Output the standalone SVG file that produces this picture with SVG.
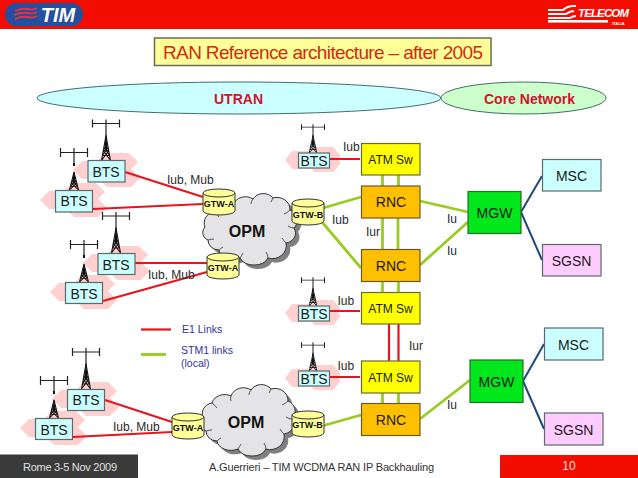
<svg xmlns="http://www.w3.org/2000/svg" xmlns:xlink="http://www.w3.org/1999/xlink" width="638" height="478" viewBox="0 0 638 478">
<style>
text{font-family:"Liberation Sans",Arial,sans-serif;fill:#1a1a1a}
.n{font-size:14px;text-anchor:middle}
.a{font-size:12px;text-anchor:middle}
.l{font-size:12px;fill:#2a2a2a}
.g{font-size:9px;font-weight:bold;text-anchor:middle;fill:#111}
.o{font-size:16px;font-weight:bold;text-anchor:middle;fill:#111}
.hd{font-size:14px;font-weight:bold;text-anchor:middle;fill:#d0142c}
.leg{font-size:10.5px;fill:#333399}
.box{stroke:#5a6a6a;stroke-width:1.2}
.bts{fill:#ccffff}
.atm{fill:#ffff00;stroke:#6b6b30;stroke-width:1.2}
.rnc{fill:#ffc000;stroke:#6b5a20;stroke-width:1.2}
.mgw{fill:#00e81c;stroke:#2a6a2a;stroke-width:1.2}
.msc{fill:#ccffff}
.sgsn{fill:#ffccff}
.red{stroke:#e8141c;stroke-width:2.2;fill:none}
.grn{stroke:#99cc22;stroke-width:2.8;fill:none}
.blu{stroke:#1f497d;stroke-width:2;fill:none}
.hex{fill:#ffd0d0}
.w{fill:none;stroke:#fff;stroke-width:2}
</style>
<defs>
<polygon id="hx" class="hex" points="0,9 9,0 33,0 42,9 33,18 9,18"/>
<g id="hexes"><use href="#hx" x="8" y="-7"/><use href="#hx" x="-15" y="1"/><use href="#hx" x="10" y="9"/></g>
<g id="hexs"><use href="#hx" transform="translate(-13,-2) scale(.8,1)"/><use href="#hx" transform="translate(9,-6) scale(.8,1)"/><use href="#hx" transform="translate(9,1) scale(.8,1)"/></g>
<g id="lat"><path d="M0,-25 L-4.500,0 M0,-25 L4.500,0 M-3.600,-5 L3.600,-5 M-2.800,-10 L2.800,-10 M-4.500,0 L2.800,-10 M4.500,0 L-2.800,-10 M-3.600,-5 L2,-13 M3.600,-5 L-2,-13" fill="none" stroke="#111" stroke-width="1.100"/><path d="M0,-27 L-1.800,-11 L1.800,-11Z" fill="#111"/></g>
<g id="tw"><path d="M-13.500,-37 H13.500 M-13.500,-41 V-33 M13.500,-41 V-33 M0,-41 V-22" fill="none" stroke="#222" stroke-width="1.200"/><use href="#lat"/></g>
<g id="ts"><path d="M-13.500,-37.500 H13.500 M-13.500,-42 V-33 M13.500,-42 V-33 M0,-42 V-24" fill="none" stroke="#222" stroke-width="1.200"/><path d="M-1,-27 h2 v3 h-2z" fill="#111"/><g transform="scale(1,.72)"><use href="#lat"/></g></g>
<g id="cyl"><path d="M0,4 V22 A16,4 0 0 0 32,22 V4" fill="#ffff99" stroke="#333" stroke-width="1"/><ellipse cx="16" cy="4" rx="16" ry="4" fill="#ffff99" stroke="#333" stroke-width="1"/></g>
<path id="cl" d="M205,227 A11,11 0 0 1 214,212 A13,11 0 0 1 233,205 A13,12 0 0 1 253,199 A12,11 0 0 1 273,198 A13,12 0 0 1 290,210 A11,11 0 0 1 294,228 A11,10 0 0 1 286,243 A14,13 0 0 1 268,258 A15,11 0 0 1 240,258 A14,10 0 0 1 219,250 A11,10 0 0 1 208,240 A8,8 0 0 1 205,227Z"/>
<g id="cloud"><use href="#cl" transform="translate(4,4)" fill="#808080"/><use href="#cl" fill="#e4e4e6" stroke="#333" stroke-width="1"/><path d="M214,212 q3,2 5,5 M233,205 q-1,3 0,5 M253,199 q-2,2 -2,5 M273,198 q-1,2 -2,4 M290,210 q-3,3 -6,4 M294,228 q-3,0 -6,-2 M286,243 q-2,-2 -4,-5 M268,258 q0,-3 -2,-6 M240,258 q2,-3 3,-5 M219,250 q2,-2 4,-3 M208,240 q3,-1 6,-1" fill="none" stroke="#333" stroke-width=".8"/></g>
</defs>

<rect width="638" height="478" fill="#fff"/>
<g id="header">
<rect width="638" height="29" fill="#f30c00"/>
<rect x="5" y="3" width="78" height="23" rx="11.500" fill="#234f9e"/>
<path d="M15,11 q7,-3 13,-2 t9,-1 M14,15 q8,-3 14,-2 t9,-1 M15,19 q7,-3 13,-2 t9,-1" fill="none" stroke="#e8323c" stroke-width="1.800"/>
<text x="58" y="21.500" style="font-size:20px;font-weight:bold;font-style:italic;fill:#fff;text-anchor:middle">TIM</text>
<path class="w" d="M548,10 H563 q5,-4 10,-4 h3 M548,14 H566 q4,-3 8,-3 M548,18 H570 q3,-2 6,-2"/>
<rect x="548" y="20" width="60" height="2.600" fill="#fff"/>
<text x="578" y="16.500" style="font-size:11.500px;font-weight:bold;font-style:italic;fill:#fff" textLength="51">TELECOM</text>
<text x="612" y="24.500" style="font-size:4px;font-weight:bold;fill:#fff">ITALIA</text>
</g>

<g id="title">
<rect x="154.500" y="38" width="336.500" height="27.500" fill="#ffff99" stroke="#6b6b55" stroke-width="1.500"/>
<text x="323" y="58.500" style="font-size:19px;text-anchor:middle;fill:#d42a10" textLength="320">RAN Reference architecture – after 2005</text>
</g>
<g id="utran"><ellipse cx="239" cy="98" rx="202" ry="16" fill="#ccffff" stroke="#3f6f70" stroke-width="1"/><text class="hd" x="238.500" y="104">UTRAN</text></g>
<g id="core"><ellipse cx="523.500" cy="98" rx="82.500" ry="16" fill="#ccffcc" stroke="#3f6f60" stroke-width="1"/><text class="hd" x="529.500" y="104">Core Network</text></g>

<g id="hexbg">
<use href="#hexes" x="88" y="160"/><use href="#hexes" x="55" y="190"/><use href="#hexes" x="98" y="253"/><use href="#hexes" x="65" y="282"/><use href="#hexes" x="67" y="389"/><use href="#hexes" x="35" y="418"/>
<use href="#hexs" x="298" y="153"/><use href="#hexs" x="298" y="306"/><use href="#hexs" x="298" y="371"/>
</g>

<g id="clouds">
<g id="opm1"><use href="#cloud"/><text class="o" x="247" y="236.500">OPM</text></g>
<g id="opm2"><use href="#cloud" transform="translate(-2,191)"/><text class="o" x="246" y="428">OPM</text></g>
</g>

<g id="connectors">
<path class="red" d="M125,172 L203,197 M93,209 L203,204 M135,263 H207 M103,301 L207,272 M105,400 L172,422 M73,437 L172,432"/>
<path class="red" d="M330,159 H360 M330,311 H360 M330,377 H360 M389,324 V361 M398.500,324 V361"/>
<path class="grn" d="M382.500,175 V186 M398.500,175 V186 M382.500,218 V249 M398,218 V249 M382.500,282 V292 M398.500,282 V292 M382.500,393 V403 M398.500,393 V403"/>
<path class="grn" d="M323,208 L361,197 M322,222 L361,268 M322,426 L361,415 M420,201 L468,212 M420,265 L468,222 M420,419 L470,380"/>
<path class="blu" d="M521,212 L542,176 M521,212 L542,260 M523,381 L544,344 M523,381 L544,429"/>
</g>

<g id="gtw-a1"><use href="#cyl" x="203" y="189"/><text class="g" x="219" y="207">GTW-A</text></g>
<g id="gtw-b1"><use href="#cyl" x="292" y="199"/><text class="g" x="308" y="217.500">GTW-B</text></g>
<g id="gtw-a2"><use href="#cyl" x="207" y="253"/><text class="g" x="223" y="271">GTW-A</text></g>
<g id="gtw-a3"><use href="#cyl" x="172" y="413"/><text class="g" x="188" y="431">GTW-A</text></g>
<g id="gtw-b2"><use href="#cyl" x="292" y="411"/><text class="g" x="307.500" y="428">GTW-B</text></g>

<g id="bts1"><use href="#tw" x="106" y="160.500"/><rect class="box bts" x="88" y="160.500" width="37" height="21.500"/><text class="n" x="106" y="177">BTS</text></g>
<g id="bts2"><use href="#ts" x="74" y="190"/><rect class="box bts" x="55.500" y="190.500" width="37" height="21.500"/><text class="n" x="74" y="206">BTS</text></g>
<g id="bts3"><use href="#tw" x="116" y="253"/><rect class="box bts" x="98" y="253.500" width="37" height="21"/><text class="n" x="116" y="270">BTS</text></g>
<g id="bts4"><use href="#ts" x="84" y="282"/><rect class="box bts" x="65.500" y="282.500" width="37" height="21"/><text class="n" x="84" y="299">BTS</text></g>
<g id="bts5"><use href="#tw" x="86" y="389"/><rect class="box bts" x="67.500" y="389.500" width="37" height="21"/><text class="n" x="86" y="405">BTS</text></g>
<g id="bts6"><use href="#ts" x="54" y="418"/><rect class="box bts" x="35.500" y="418.500" width="37" height="21"/><text class="n" x="54" y="435">BTS</text></g>
<g id="bts7"><use href="#tw" transform="translate(313,153) scale(.85,.7)"/><rect class="box bts" x="298.500" y="153" width="31" height="15"/><text class="n" x="314" y="166">BTS</text></g>
<g id="bts8"><use href="#tw" transform="translate(313,306) scale(.85,.7)"/><rect class="box bts" x="298.500" y="306" width="31" height="15"/><text class="n" x="314" y="319">BTS</text></g>
<g id="bts9"><use href="#tw" transform="translate(313,371) scale(.85,.7)"/><rect class="box bts" x="298.500" y="371" width="31" height="15"/><text class="n" x="314" y="384">BTS</text></g>

<g id="atm1"><rect class="atm" x="361.500" y="143.500" width="58.500" height="31.500"/><text class="a" x="390.500" y="164">ATM Sw</text></g>
<g id="rnc1"><rect class="rnc" x="361.500" y="186" width="58.500" height="32"/><text class="n" x="391" y="207">RNC</text></g>
<g id="rnc2"><rect class="rnc" x="361.500" y="249.500" width="58.500" height="32"/><text class="n" x="391" y="271">RNC</text></g>
<g id="atm2"><rect class="atm" x="361.500" y="292.500" width="58.500" height="31.500"/><text class="a" x="390.500" y="313">ATM Sw</text></g>
<g id="atm3"><rect class="atm" x="361.500" y="361" width="58.500" height="32"/><text class="a" x="390.500" y="382">ATM Sw</text></g>
<g id="rnc3"><rect class="rnc" x="361.500" y="403.500" width="58.500" height="32"/><text class="n" x="391" y="424.500">RNC</text></g>
<g id="mgw1"><rect class="mgw" x="468" y="191.500" width="53" height="42"/><text class="n" x="494.500" y="218">MGW</text></g>
<g id="mgw2"><rect class="mgw" x="470" y="360" width="53" height="42.500"/><text class="n" x="496.500" y="387">MGW</text></g>
<g id="msc1"><rect class="box msc" x="542.500" y="159.500" width="58.500" height="31.500"/><text class="n" x="571.500" y="181">MSC</text></g>
<g id="sgsn1"><rect class="box sgsn" x="542.500" y="244.500" width="58.500" height="31.500"/><text class="n" x="571.500" y="266">SGSN</text></g>
<g id="msc2"><rect class="box msc" x="544.500" y="328" width="58.500" height="32"/><text class="n" x="573.500" y="350">MSC</text></g>
<g id="sgsn2"><rect class="box sgsn" x="544.500" y="413" width="58.500" height="32"/><text class="n" x="573.500" y="435">SGSN</text></g>

<g id="labels">
<text class="l" x="167" y="184">Iub, Mub</text>
<text class="l" x="148" y="279">Iub, Mub</text>
<text class="l" x="113" y="431">Iub, Mub</text>
<text class="l" x="343" y="151">Iub</text>
<text class="l" x="332" y="224">Iub</text>
<text class="l" x="366" y="236">Iur</text>
<text class="l" x="447" y="223">Iu</text>
<text class="l" x="447" y="255">Iu</text>
<text class="l" x="337.500" y="305">Iub</text>
<text class="l" x="409" y="350">Iur</text>
<text class="l" x="337.500" y="370">Iub</text>
<text class="l" x="447" y="409">Iu</text>
</g>

<g id="legend">
<path class="red" d="M141,329.500 H171"/>
<path class="grn" d="M141,354.500 H166"/>
<text class="leg" x="182" y="333">E1 Links</text>
<text class="leg" x="181" y="354">STM1 links</text>
<text class="leg" x="181" y="367">(local)</text>
</g>

<g id="footer">
<rect x="0" y="454.500" width="138" height="23.500" fill="#3a3a3a"/>
<text x="23" y="471" style="font-size:11px;fill:#e0e0e0" textLength="94">Rome 3-5 Nov 2009</text>
<text x="209" y="471" style="font-size:11px;fill:#333" textLength="225">A.Guerrieri – TIM WCDMA RAN IP Backhauling</text>
<rect x="500" y="455" width="138" height="23" fill="#f30c00"/>
<text x="569" y="470" style="font-size:12px;fill:#ffe0d8;text-anchor:middle">10</text>
</g>
</svg>
